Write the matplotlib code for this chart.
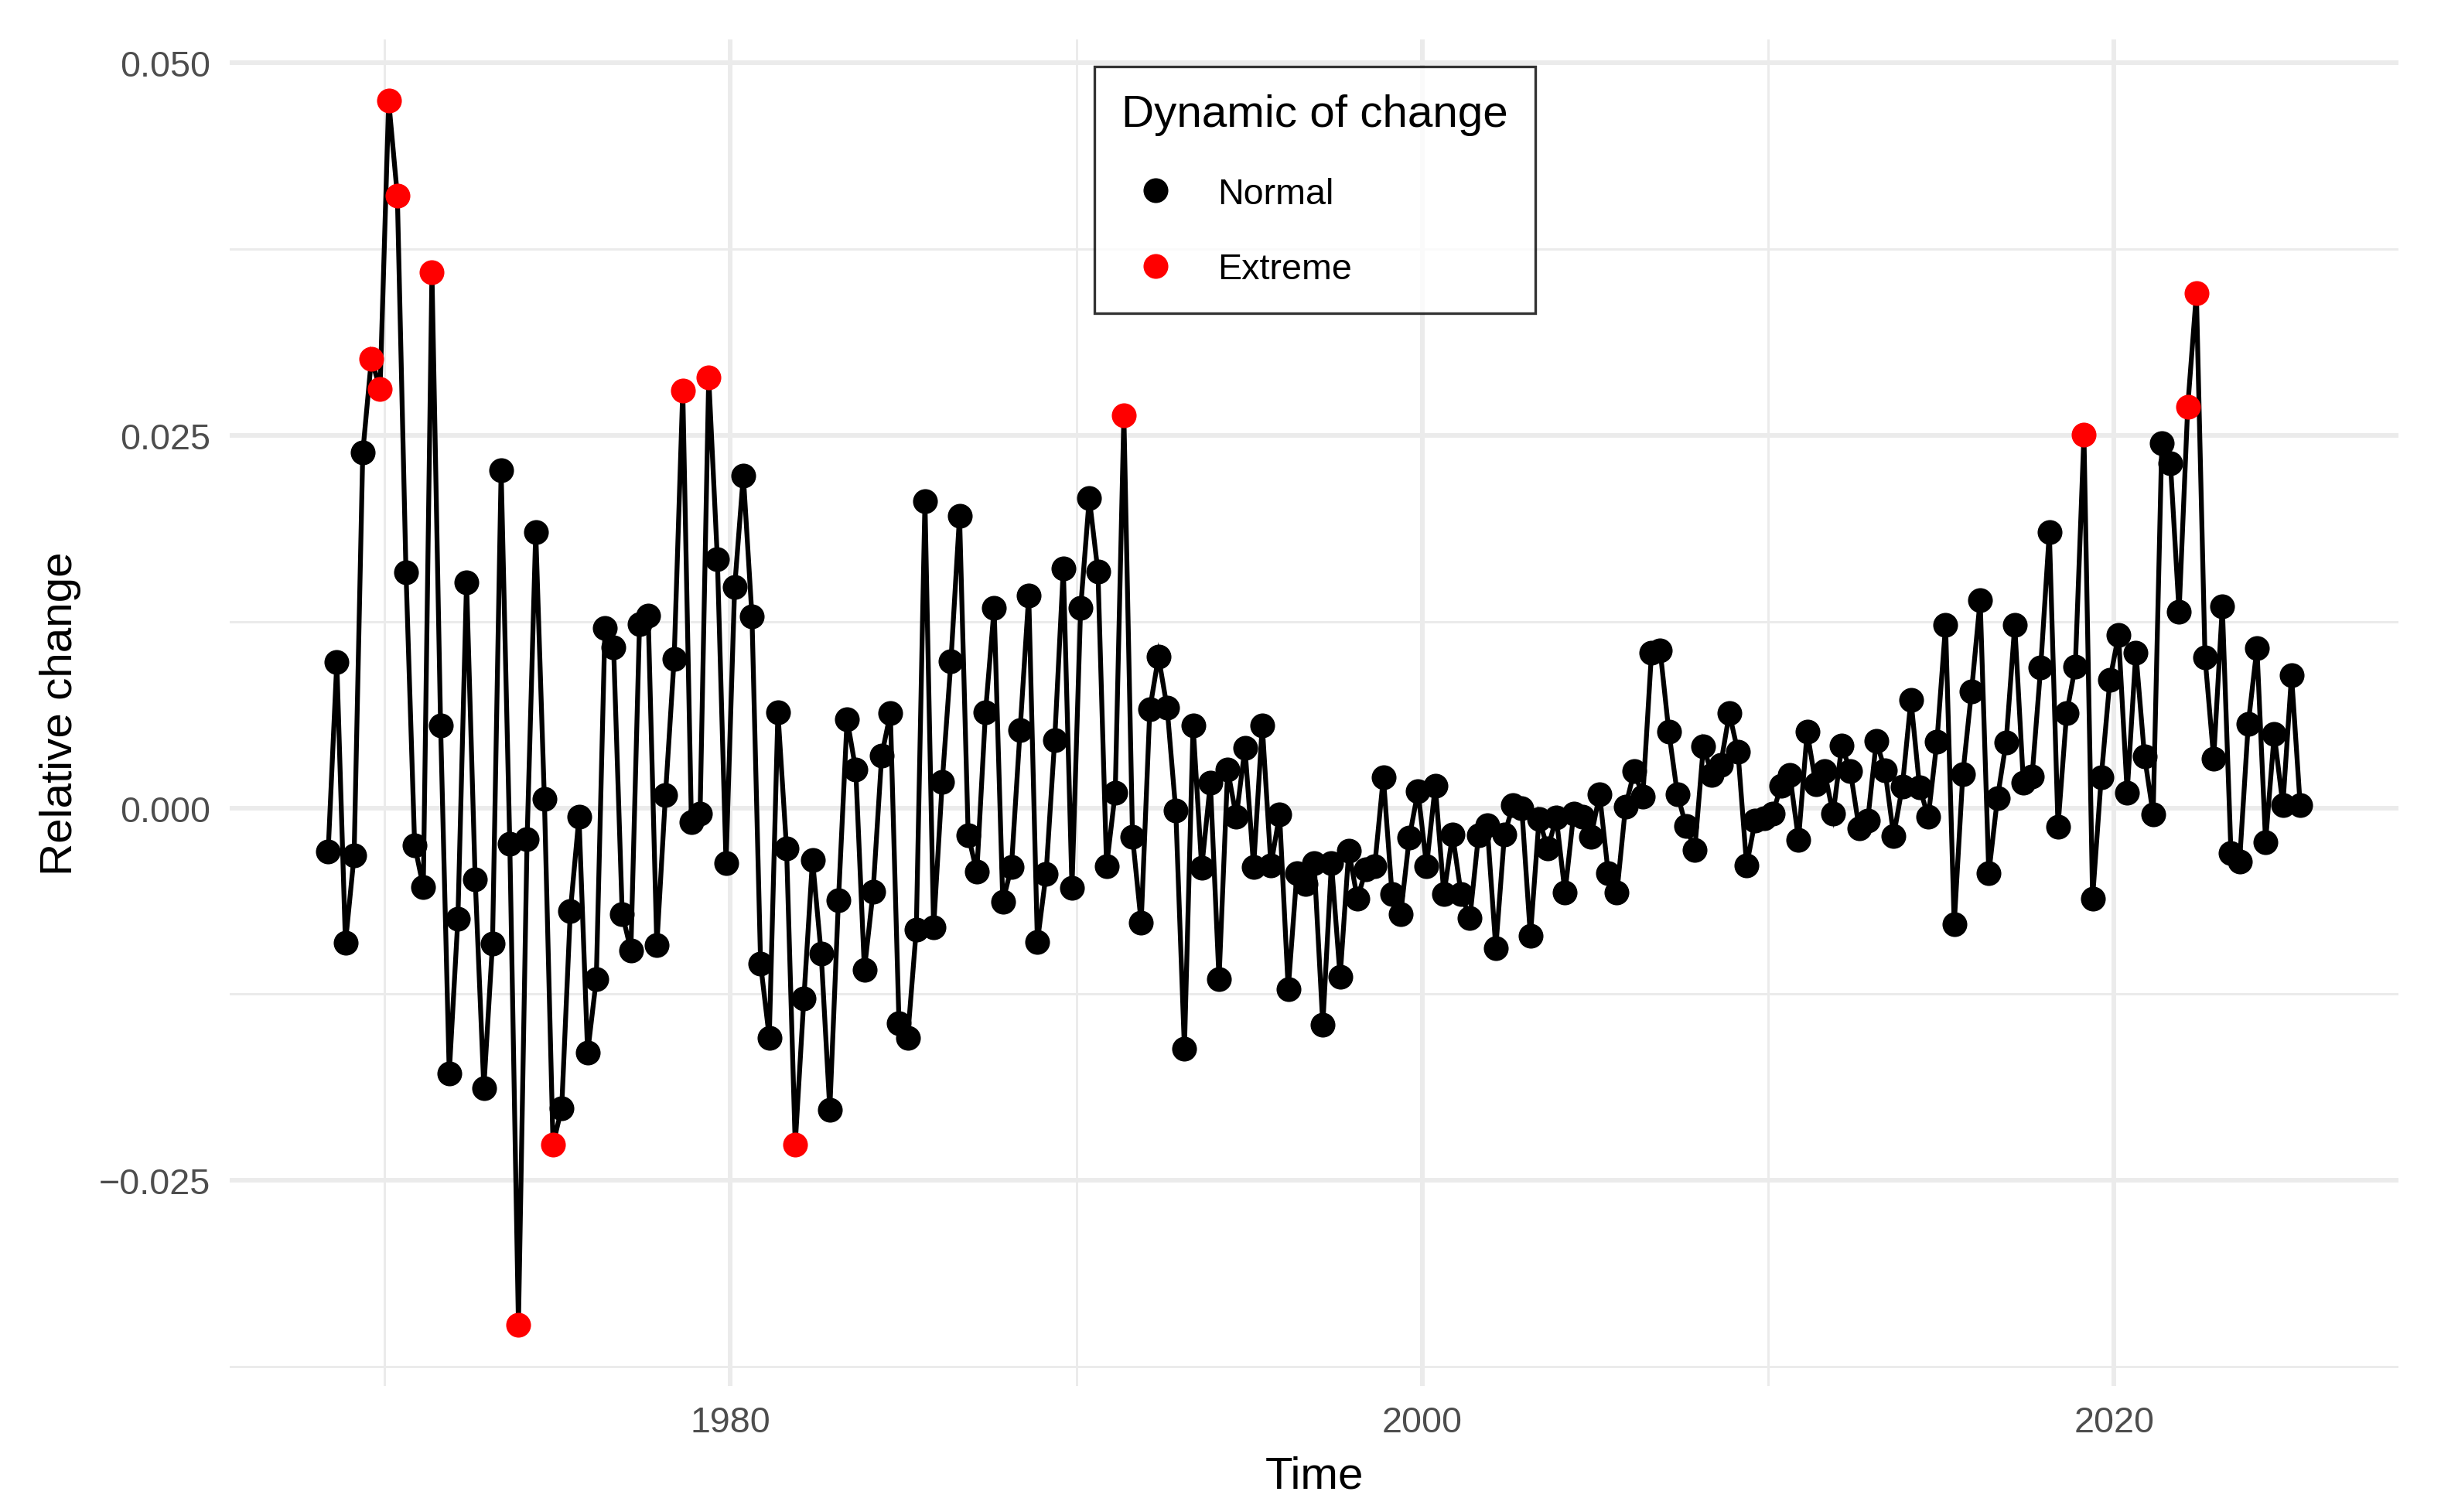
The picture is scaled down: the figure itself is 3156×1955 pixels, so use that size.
import numpy as np
import pandas as pd
import matplotlib
matplotlib.use("Agg")
import matplotlib.pyplot as plt
from matplotlib.lines import Line2D

# ---------------- data ----------------
start_quarter = "1968Q2"
relative_change = [
    -0.00293, 0.00977, -0.00907, -0.00320, 0.02384, 0.03014, 0.02813, 0.04746, 0.04110, 0.01580,
    -0.00250, -0.00532, 0.03595, 0.00554, -0.01781, -0.00744, 0.01515, -0.00478, -0.01879, -0.00912,
    0.02264, -0.00239, -0.03470, -0.00212, 0.01852, 0.00060, -0.02259, -0.02015, -0.00695, -0.00060,
    -0.01645, -0.01151, 0.01205, 0.01080, -0.00711, -0.00956, 0.01233, 0.01292, -0.00923, 0.00087,
    0.00999, 0.02802, -0.00098, -0.00038, 0.02889, 0.01672, -0.00369, 0.01482, 0.02232, 0.01287,
    -0.01048, -0.01542, 0.00641, -0.00272, -0.02259, -0.01281, -0.00348, -0.00977, -0.02025, -0.00619,
    0.00597, 0.00255, -0.01086, -0.00565, 0.00353, 0.00635, -0.01444, -0.01542, -0.00815, 0.02058,
    -0.00804, 0.00174, 0.00983, 0.01960, -0.00185, -0.00429, 0.00641, 0.01341, -0.00630, -0.00396,
    0.00521, 0.01428, -0.00901, -0.00445, 0.00456, 0.01607, -0.00538, 0.01341, 0.02080, 0.01586,
    -0.00391, 0.00103, 0.02634, -0.00195, -0.00771, 0.00662, 0.01015, 0.00673, -0.00020, -0.01618,
    0.00554, -0.00402, 0.00168, -0.01151, 0.00255, -0.00060, 0.00402, -0.00396, 0.00554, -0.00386,
    -0.00043, -0.01216, -0.00440, -0.00510, -0.00370, -0.01455, -0.00370, -0.01135, -0.00290, -0.00610,
    -0.00410, -0.00390, 0.00206, -0.00576, -0.00715, -0.00200, 0.00112, -0.00390, 0.00150, -0.00580,
    -0.00180, -0.00580, -0.00740, -0.00183, -0.00118, -0.00940, -0.00180, 0.00020, 0.00000, -0.00860,
    -0.00075, -0.00273, -0.00066, -0.00570, -0.00040, -0.00057, -0.00196, 0.00090, -0.00440, -0.00570,
    0.00010, 0.00245, 0.00078, 0.01040, 0.01059, 0.00514, 0.00090, -0.00123, -0.00282, 0.00415,
    0.00220, 0.00290, 0.00634, 0.00375, -0.00386, -0.00083, -0.00070, -0.00040, 0.00150, 0.00220,
    -0.00213, 0.00510, 0.00159, 0.00245, -0.00040, 0.00418, 0.00245, -0.00136, -0.00083, 0.00448,
    0.00250, -0.00187, 0.00142, 0.00726, 0.00136, -0.00061, 0.00444, 0.01226, -0.00780, 0.00228,
    0.00781, 0.01396, -0.00440, 0.00066, 0.00440, 0.01227, 0.00168, 0.00210, 0.00945, 0.01852,
    -0.00125, 0.00635, 0.00950, 0.02503, -0.00608, 0.00206, 0.00858, 0.01162, 0.00103, 0.01043,
    0.00348, -0.00043, 0.02449, 0.02313, 0.01314, 0.02693, 0.03453, 0.01010, 0.00331, 0.01352,
    -0.00304, -0.00358, 0.00565, 0.01075, -0.00228, 0.00494, 0.00020, 0.00890, 0.00020,
]
extreme_positions = [5, 6, 7, 8, 12, 22, 26, 41, 44, 54, 92, 203, 215, 216]
group_labels = ["Normal", "Extreme"]
group_colors = ["#000000", "#FF0000"]
x_major_ticks = [1980, 2000, 2020]
x_minor_ticks = [1970, 1990, 2010]
y_major_ticks = [-0.025, 0.0, 0.025, 0.050]
y_minor_ticks = [-0.0375, -0.0125, 0.0125, 0.0375]
y_tick_labels = ["\u22120.025", "0.000", "0.025", "0.050"]

# ---------------- build ----------------
values = np.array(relative_change)
n = len(values)
periods = pd.period_range(start_quarter, periods=n, freq="Q")
time = periods.year.values + (periods.quarter.values - 1) / 4.0 + 0.125
is_extreme = np.zeros(n, dtype=bool)
is_extreme[extreme_positions] = True

plt.rcParams["font.family"] = ["Liberation Sans", "DejaVu Sans"]

fig = plt.figure(figsize=(10.52, 6.52), dpi=300)
ax = fig.add_axes([0.09404, 0.08333, 0.88866, 0.89029])

ax.set_xlim(1965.525, 2028.225)
ax.set_ylim(-0.0388, 0.0516)

grid_col = "#EBEBEB"
for v in x_major_ticks:
    ax.axvline(v, color=grid_col, lw=1.42, zorder=0)
for v in x_minor_ticks:
    ax.axvline(v, color=grid_col, lw=0.71, zorder=0)
for v in y_major_ticks:
    ax.axhline(v, color=grid_col, lw=1.42, zorder=0)
for v in y_minor_ticks:
    ax.axhline(v, color=grid_col, lw=0.71, zorder=0)

ax.plot(time, values, color="black", lw=1.5, zorder=2, solid_joinstyle="miter")
ax.plot(time[~is_extreme], values[~is_extreme], "o", color=group_colors[0],
        markersize=7.7, markeredgewidth=0, zorder=3)
ax.plot(time[is_extreme], values[is_extreme], "o", color=group_colors[1],
        markersize=7.7, markeredgewidth=0, zorder=3)

for s in ax.spines.values():
    s.set_visible(False)
ax.set_xticks(x_major_ticks)
ax.set_xticklabels([str(t) for t in x_major_ticks])
ax.set_yticks(y_major_ticks)
ax.set_yticklabels(y_tick_labels)
ax.tick_params(axis="both", length=0, labelsize=11.2, labelcolor="#4D4D4D")
ax.tick_params(axis="y", pad=6)
ax.tick_params(axis="x", pad=6)

ax.set_xlabel("Time", fontsize=14, color="black", labelpad=5)
ax.set_ylabel("Relative change", fontsize=14, color="black", labelpad=5.5)

handles = [Line2D([], [], marker="o", linestyle="", color=c, markersize=7.7,
                  markeredgewidth=0) for c in group_colors]
leg = ax.legend(handles, group_labels, title="Dynamic of change",
                loc="upper left", bbox_to_anchor=(1415 / 3156, 1 - 87 / 1956),
                bbox_transform=fig.transFigure,
                fontsize=11.2, title_fontsize=14, frameon=True, fancybox=False,
                borderpad=0.75, handlelength=1.9, handletextpad=0.75,
                labelspacing=1.15, alignment="left", borderaxespad=0)
leg.get_frame().set_edgecolor("black")
leg.get_frame().set_linewidth(0.8)
leg.get_frame().set_facecolor("white")
leg.get_title().set_color("black")

fig.savefig("out.png", dpi=300, facecolor="white")
